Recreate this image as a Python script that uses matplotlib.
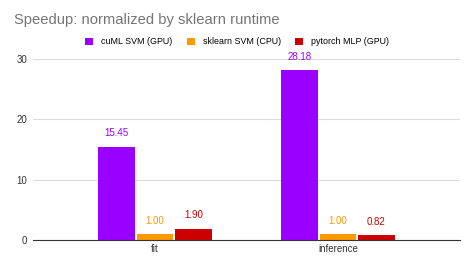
import numpy as np
import matplotlib.pyplot as plt

plt.rcParams["font.family"] = ["Liberation Sans", "DejaVu Sans"]

categories = ["fit", "inference"]
series_names = ["cuML SVM (GPU)", "sklearn SVM (CPU)", "pytorch MLP (GPU)"]
cuml_svm = [15.45, 28.18]
sklearn_svm = [1.00, 1.00]
pytorch_mlp = [1.90, 0.82]
colors = ["#9900ff", "#ff9900", "#cc0000"]

fig = plt.figure(figsize=(4.74, 2.66), dpi=100)
ax = fig.add_axes([33 / 474, 26 / 266, 427 / 474, 181 / 266])

x = np.arange(len(categories))
width = 0.2
offsets = [-0.21, 0.0, 0.21]
for vals, name, c, off in zip([cuml_svm, sklearn_svm, pytorch_mlp], series_names, colors, offsets):
    bars = ax.bar(x + off, vals, width, color=c, label=name, zorder=3)
    for b, v in zip(bars, vals):
        ax.text(b.get_x() + b.get_width() / 2, v + 1.4, f"{v:.2f}",
                ha="center", va="bottom", fontsize=7, color=c)

ax.set_xlim(-0.667, 1.667)
ax.set_ylim(0, 30)
ax.set_yticks([0, 10, 20, 30])
ax.set_xticks(x)
ax.set_xticklabels(categories)
ax.tick_params(axis="both", length=0, labelsize=7, labelcolor="#333333")
ax.tick_params(axis="y", pad=4)
ax.tick_params(axis="x", pad=3)
ax.yaxis.grid(True, color="#dddddd", lw=0.8, zorder=0)
for s in ["top", "right", "left"]:
    ax.spines[s].set_visible(False)
ax.spines["bottom"].set_color("#333333")
ax.spines["bottom"].set_linewidth(0.8)
ax.spines["bottom"].set_zorder(4)

fig.text(14 / 474, 1 - 20 / 266, "Speedup: normalized by sklearn runtime",
         fontsize=10.6, color="#757575", va="center", ha="left")
fig.legend(loc="center", bbox_to_anchor=(237 / 474, 1 - 42 / 266), ncol=3,
           frameon=False, fontsize=6.4, handlelength=0.9, handleheight=0.9,
           columnspacing=1.6, handletextpad=0.9)

fig.savefig("out.png", dpi=100)
